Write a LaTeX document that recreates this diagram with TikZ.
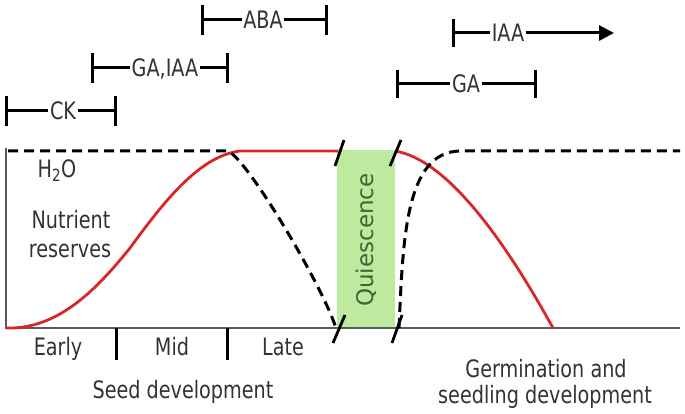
\documentclass[tikz,border=0pt]{standalone}
\usepackage{fontspec}
\setmainfont{DejaVu Sans}
\newfontfamily\labfont[FakeStretch=0.8]{DejaVu Sans}
\usetikzlibrary{arrows.meta}
\definecolor{curvered}{RGB}{214,40,40}
\definecolor{qgreen}{RGB}{190,234,160}
\definecolor{qtext}{RGB}{60,105,50}
\definecolor{txt}{RGB}{50,50,50}
\definecolor{axisgray}{RGB}{90,90,90}
\begin{document}
\begin{tikzpicture}[x=1pt,y=-1pt,
  lab/.style={font=\labfont\fontsize{24}{28}\selectfont, text=txt, inner sep=0pt, anchor=base},
  hlab/.style={lab, inner sep=1.5pt},
  bar/.style={line width=3pt, black},
  tickmark/.style={line width=3pt, black},
  axisline/.style={line width=2.2pt, axisgray},
  redcurve/.style={line width=2.8pt, curvered, line join=round},
  watercurve/.style={line width=3pt, black, dash pattern=on 10pt off 6pt},
  breakmark/.style={line width=2.8pt, black}
]
\useasboundingbox (0,0) rectangle (685,414);

% quiescence box
\node[fill=qgreen, minimum width=58pt, minimum height=178pt, inner sep=0pt, anchor=north west] (qbox) at (337,150) {};
\node[font=\fontsize{23}{27}\selectfont, text=qtext, rotate=90] (qlab) at (366,240) {Quiescence};

% axes
\coordinate (origin) at (6,328);
\coordinate (ytop) at (6,148);
\coordinate (xend) at (680,328);
\draw[axisline] (ytop) -- (origin) -- (xend);

% phase ticks
\coordinate (t1) at (116,328);
\coordinate (t2) at (227,328);
\draw[tickmark] (t1) -- ++(0,32);
\draw[tickmark] (t2) -- ++(0,32);

% stage labels
\node[lab] (early) at (58,355) {Early};
\node[lab] (mid) at (172,355) {Mid};
\node[lab] (late) at (283,355) {Late};
\node[lab] (seed) at (183,398) {Seed development};
\node[lab] (germ) at (546,377) {Germination and};
\node[lab] (seedl) at (545,403) {seedling development};

% curve labels
\node[lab] (water) at (57,178) {H\textsubscript{2}O};
\node[lab] (nutr) at (71,228) {Nutrient};
\node[lab] (resv) at (70,257) {reserves};

% nutrient curve
\draw[redcurve] (6,328) .. controls (60,330) and (100,285) .. (130,248)
  .. controls (165,200) and (200,156) .. (240,151) -- (338,151);
\draw[redcurve] (395,151) .. controls (450,160) and (510,250) .. (553,328);

% water curve
\draw[watercurve] (8,151) -- (228,151) .. controls (248,160) and (322,285) .. (336,328);
\draw[watercurve] (399,328) .. controls (403,240) and (405,152) .. (460,151) -- (680,151);

% break marks
\draw[breakmark] (335,166) -- (344,140);
\draw[breakmark] (390,166) -- (401,140);
\draw[breakmark] (333,343) -- (345,315);
\draw[breakmark] (392,343) -- (402,315);

% hormone bars
\coordinate (ckL) at (6,111);
\coordinate (ckR) at (115,111);
\node[hlab] (ck) at (63,120) {CK};
\draw[bar] (ckL) -- (ck.west |- ckL);
\draw[bar] (ck.east |- ckL) -- (ckR);
\draw[tickmark] (ckL) ++(0,-15) -- ++(0,30);
\draw[tickmark] (ckR) ++(0,-15) -- ++(0,30);

\coordinate (gaiL) at (92,68);
\coordinate (gaiR) at (227,68);
\node[hlab] (gai) at (165,77) {GA,IAA};
\draw[bar] (gaiL) -- (gai.west |- gaiL);
\draw[bar] (gai.east |- gaiL) -- (gaiR);
\draw[tickmark] (gaiL) ++(0,-15) -- ++(0,30);
\draw[tickmark] (gaiR) ++(0,-15) -- ++(0,30);

\coordinate (abaL) at (202,20);
\coordinate (abaR) at (326,20);
\node[hlab] (aba) at (263,29) {ABA};
\draw[bar] (abaL) -- (aba.west |- abaL);
\draw[bar] (aba.east |- abaL) -- (abaR);
\draw[tickmark] (abaL) ++(0,-15) -- ++(0,30);
\draw[tickmark] (abaR) ++(0,-15) -- ++(0,30);

\coordinate (iaaL) at (453,33);
\coordinate (iaaR) at (614,33);
\node[hlab] (iaa) at (508,42) {IAA};
\draw[bar] (iaaL) -- (iaa.west |- iaaL);
\draw[bar, -{Triangle[length=15pt,width=15pt]}] (iaa.east |- iaaL) -- (iaaR);
\draw[tickmark] (iaaL) ++(0,-14) -- ++(0,28);

\coordinate (gaL) at (397,84);
\coordinate (gaR) at (535,84);
\node[hlab] (ga) at (466,93) {GA};
\draw[bar] (gaL) -- (ga.west |- gaL);
\draw[bar] (ga.east |- gaL) -- (gaR);
\draw[tickmark] (gaL) ++(0,-14) -- ++(0,28);
\draw[tickmark] (gaR) ++(0,-14) -- ++(0,28);
\end{tikzpicture}
\end{document}
